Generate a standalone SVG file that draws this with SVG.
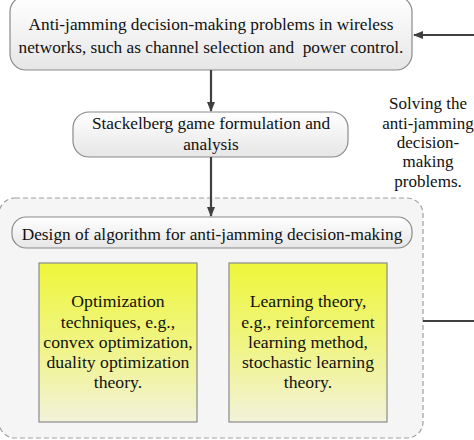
<svg xmlns="http://www.w3.org/2000/svg" width="474" height="440" viewBox="0 0 474 440">
<style>
text{font-family:"Liberation Serif","Times New Roman",serif;fill:#111;text-anchor:middle}
.t1{font-size:17.3px}
.t2{font-size:17.7px}
.t3{font-size:17px}
.rb{fill:url(#gr);stroke:#8a8a8a;stroke-width:1.2}
.yb{fill:url(#gy);stroke:#8a8a8a;stroke-width:1.2}
.con{fill:none;stroke:#404040;stroke-width:2.2}
</style>
<defs>
<linearGradient id="gr" x1="0" y1="0" x2="0" y2="1"><stop offset="0" stop-color="#ffffff"/><stop offset="1" stop-color="#e6e6e6"/></linearGradient>
<linearGradient id="gy" x1="0" y1="0" x2="0" y2="1"><stop offset="0" stop-color="#eef73a"/><stop offset="0.55" stop-color="#f0f48a"/><stop offset="1" stop-color="#f2f2da"/></linearGradient>
<marker id="ah" markerWidth="10" markerHeight="8" refX="9" refY="4" orient="auto" markerUnits="userSpaceOnUse"><path d="M0,0 L10,4 L0,8 Z" fill="#404040"/></marker>
</defs>
<g id="container">
<rect x="-1" y="198" width="424" height="240" rx="16" fill="#f5f5f5" stroke="#a0a0a0" stroke-width="1.2" stroke-dasharray="5,3"/>
</g>
<g id="n1">
<rect class="rb" x="10" y="-4" width="402" height="74" rx="16"/>
<text class="t1" x="211" y="30">Anti-jamming decision-making problems in wireless</text>
<text class="t1" x="211" y="53" xml:space="preserve">networks, such as channel selection and  power control.</text>
</g>
<g id="n2">
<rect class="rb" x="73" y="112" width="275" height="45" rx="16"/>
<text class="t1" x="211" y="129">Stackelberg game formulation and</text>
<text class="t1" x="211" y="150">analysis</text>
</g>
<g id="n3">
<rect class="rb" x="12" y="217" width="400" height="31" rx="14"/>
<text class="t1" x="212" y="240">Design of algorithm for anti-jamming decision-making</text>
</g>
<g id="n4">
<rect class="yb" x="39" y="263" width="158" height="159"/>
<text class="t2" x="118" y="307">Optimization</text>
<text class="t2" x="118" y="328">techniques, e.g.,</text>
<text class="t2" x="118" y="348">convex optimization,</text>
<text class="t2" x="118" y="368">duality optimization</text>
<text class="t2" x="118" y="388">theory.</text>
</g>
<g id="n5">
<rect class="yb" x="229" y="263" width="158" height="159"/>
<text class="t2" x="308" y="307">Learning theory,</text>
<text class="t2" x="308" y="328">e.g., reinforcement</text>
<text class="t2" x="308" y="348">learning method,</text>
<text class="t2" x="308" y="368">stochastic learning</text>
<text class="t2" x="308" y="388">theory.</text>
</g>
<g id="label">
<text class="t3" x="428" y="109">Solving the</text>
<text class="t3" x="428" y="129">anti-jamming</text>
<text class="t3" x="428" y="148">decision-</text>
<text class="t3" x="428" y="167">making</text>
<text class="t3" x="428" y="187">problems.</text>
</g>
<g id="connectors">
<line class="con" x1="211" y1="70" x2="211" y2="111" marker-end="url(#ah)"/>
<line class="con" x1="211" y1="157" x2="211" y2="216" marker-end="url(#ah)"/>
<path class="con" d="M423,321 H477 V35 H414" marker-end="url(#ah)"/>
</g>
</svg>
